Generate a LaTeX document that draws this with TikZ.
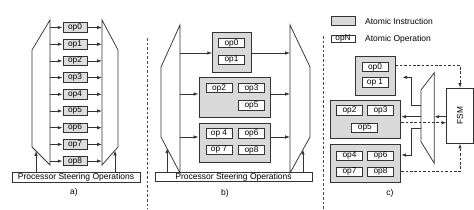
\documentclass[tikz,border=0pt]{standalone}
\usepackage{fontspec}
\setmainfont{Liberation Sans}
\usetikzlibrary{arrows.meta}
\tikzset{
  wire/.style={draw=black!80, line width=0.75pt},
  arr/.style={wire, -{Latex[length=4.8pt,width=3.4pt]}},
  darr/.style={arr, dash pattern=on 2.6pt off 1.8pt},
  sep/.style={draw=black!70, line width=0.7pt, dash pattern=on 2.6pt off 2pt},
  mux/.style={wire, fill=white, line join=miter},
  opbox/.style={draw=black!80, line width=0.75pt, fill=black!13, minimum width=24pt,
    minimum height=9.5pt, inner sep=0pt, font=\fontsize{8.3}{9}\selectfont},
  opw/.style={opbox, fill=white, minimum width=26pt},
  instr/.style={draw=black!80, line width=0.95pt, fill=black!15, inner sep=0pt},
  steer/.style={draw=black!80, line width=0.75pt, minimum height=9.5pt, inner sep=0pt,
    font=\fontsize{8.5}{9}\selectfont},
  lbl/.style={font=\fontsize{8.5}{9}\selectfont, inner sep=0pt}
}
\begin{document}
\begin{tikzpicture}[x=1pt, y=-1pt]
\useasboundingbox (0,0) rectangle (474,209);

% a)
\draw[mux] (50,20) -- (32,50) -- (32,147) -- (50,165) -- cycle;
\draw[mux] (102,20) -- (118,50) -- (118,147) -- (102,165) -- cycle;
\coordinate (aL) at (50,0);
\coordinate (aR) at (102,0);
\foreach \i in {0,...,8} {
  \node[opbox] (a\i) at (75,{27.5+16.7*\i}) {op\i};
  \draw[arr] (a\i.west -| aL) -- (a\i.west);
  \draw[arr] (a\i.east) -- (a\i.east -| aR);
}
\node[steer, minimum width=128pt] (sa) at (76,177.5) {Processor Steering Operations};
\coordinate (aml) at (36,151);
\coordinate (amr) at (115,150.5);
\draw[arr] (sa.north -| aml) -- (aml);
\draw[arr] (sa.north -| amr) -- (amr);
\node[lbl] (la) at (74,192) {a)};

\draw[sep] (147.5,38) -- (147.5,209);

% b)
\draw[mux] (180,25) -- (161,67) -- (161,137) -- (180,173) -- cycle;
\draw[mux] (290,25) -- (310,67) -- (310,137) -- (290,173) -- cycle;
\coordinate (bL) at (180,0);
\coordinate (bR) at (290,0);

\node[instr, minimum width=39pt, minimum height=40pt] (b1) at (232.2,52) {};
\node[opw] (b1a) at (231.5,43) {op0};
\node[opw] (b1b) at (231.5,60) {op1};

\node[instr, minimum width=71.7pt, minimum height=40pt] (b2) at (234.85,97) {};
\node[opw] (b2a) at (219,88) {op2};
\node[opw] (b2b) at (251.5,88) {op3};
\node[opw] (b2c) at (251.5,105.5) {op5};

\node[instr, minimum width=71.7pt, minimum height=39pt] (b3) at (234.85,142.5) {};
\node[opw] (b3a) at (219,133.5) {op 4};
\node[opw] (b3b) at (251.5,133.5) {op6};
\node[opw] (b3c) at (219,150) {op 7};
\node[opw] (b3d) at (251.5,150) {op8};

\coordinate (b1y) at (0,53);
\coordinate (b2y) at (0,94);
\coordinate (b3y) at (0,137);
\draw[arr] (bL |- b1y) -- (b1.west |- b1y);
\draw[arr] (b1.east |- b1y) -- (bR |- b1y);
\draw[arr] (bL |- b2y) -- (b2.west |- b2y);
\draw[arr] (b2.east |- b2y) -- (bR |- b2y);
\draw[arr] (bL |- b3y) -- (b3.west |- b3y);
\draw[arr] (b3.east |- b3y) -- (bR |- b3y);

\node[steer, minimum width=157pt] (sb) at (233.5,177) {Processor Steering Operations};
\coordinate (bml) at (167,148.4);
\coordinate (bmr) at (303,149.6);
\draw[arr] (sb.north -| bml) -- (bml);
\draw[arr] (sb.north -| bmr) -- (bmr);
\node[lbl] (lb) at (225,193) {b)};

\draw[sep] (323.3,36) -- (323.3,209);

% c)
\node[instr, minimum width=24pt, minimum height=8.5pt] (k1) at (343,21) {};
\node[lbl, anchor=west] (k1t) at (365,21) {Atomic Instruction};
\node[opw, minimum width=24pt, minimum height=7pt] (k2) at (343,39) {opN};
\node[lbl, anchor=west] (k2t) at (365,39) {Atomic Operation};

\node[instr, minimum width=39.3pt, minimum height=38.3pt] (c1) at (375.35,75.85) {};
\node[opw] (c1a) at (375,67) {op0};
\node[opw] (c1b) at (375,82.5) {op 1};

\node[instr, minimum width=70pt, minimum height=38pt] (c2) at (365.7,119) {};
\node[opw] (c2a) at (349.5,110.5) {op2};
\node[opw] (c2b) at (380.5,110.5) {op3};
\node[opw] (c2c) at (364.85,127.7) {op5};

\node[instr, minimum width=70pt, minimum height=38pt] (c3) at (365.7,163) {};
\node[opw] (c3a) at (349.5,155.7) {op4};
\node[opw] (c3b) at (380.5,155.7) {op6};
\node[opw] (c3c) at (349.5,171.7) {op7};
\node[opw] (c3d) at (380.5,171.7) {op8};

\node[wire, minimum width=26.6pt, minimum height=55pt, inner sep=0pt] (fsm) at (460,115.8)
  {\rotatebox{90}{\fontsize{8.3}{9}\selectfont FSM}};

\draw[mux] (434.3,72.7) -- (421,90) -- (421,141.7) -- (434.3,163.3) -- cycle;
\coordinate (cL) at (421,0);
\coordinate (cR) at (434.3,0);
\coordinate (cj) at (411.7,0);
\coordinate (c1t) at (402.3,77.3);

\draw[arr] (cL |- 0,105) -- (cj |- 0,105) -- (cj |- c1t) -- (c1t);
\draw[arr] (cL |- 0,116.7) -- (c2.east |- 0,116.7);
\draw[arr] (cL |- 0,128.3) -- (cj |- 0,128.3) -- (cj |- 0,155) -- (c3.east |- 0,155);
\draw[arr] (fsm.west |- 0,116.7) -- (cR |- 0,116.7);
\draw[darr] (c2.east |- 0,122.7) -- (fsm.west |- 0,122.7);
\draw[darr] (c1.east |- 0,65.5) -- (fsm.north |- 0,65.5) -- (fsm.north);
\draw[darr] (c3.east |- 0,171.7) -- (fsm.south |- 0,171.7) -- (fsm.south);
\node[lbl] (lc) at (390,193) {c)};
\end{tikzpicture}
\end{document}
